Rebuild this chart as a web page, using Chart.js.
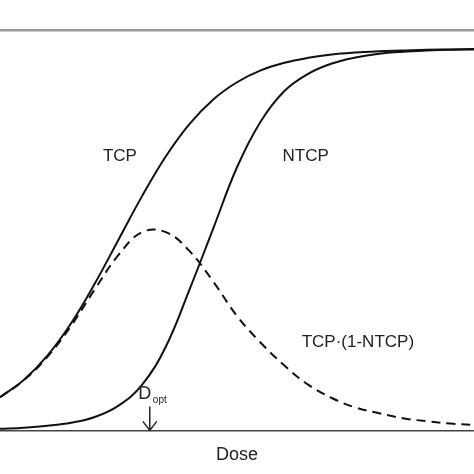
<!DOCTYPE html>
<html><head><script src="https://cdn.jsdelivr.net/npm/chart.js"></script>
<style>html,body{margin:0;background:#fff}#w{width:474px;height:474px}</style></head>
<body><div id="w"><canvas id="c"></canvas></div>
<script>
const dose=[0,5,10,15,20,25,30,35,40,45,50,55,60,65,70,75,80,85,90,95,100];
const tcp=[0.087,0.132,0.196,0.281,0.385,0.5,0.615,0.719,0.804,0.868,0.913,0.944,0.964,0.977,0.986,0.991,0.994,0.996,0.998,0.999,1.0];
const ntcp=[0.004,0.007,0.012,0.02,0.035,0.065,0.12,0.22,0.37,0.53,0.69,0.81,0.89,0.935,0.962,0.978,0.988,0.993,0.996,0.998,0.999];
const prod=[0.087,0.131,0.193,0.274,0.37,0.46,0.52,0.52,0.47,0.39,0.30,0.23,0.17,0.12,0.085,0.06,0.045,0.032,0.024,0.018,0.014];
const labels=[{t:'TCP',x:25.3,y:0.72},{t:'NTCP',x:64.5,y:0.72},{t:'TCP·(1-NTCP)',x:75.5,y:0.23}];
const dopt=31.6;
const pts=a=>a.map((v,i)=>({x:dose[i],y:v}));
const ds=(a,dash)=>({data:pts(a),borderColor:'#111',borderWidth:2,borderDash:dash,pointRadius:0,tension:0.4,fill:false});
const deco={id:'deco',afterDatasetsDraw(ch){const c=ch.ctx,x=ch.scales.x,y=ch.scales.y;
c.save();c.fillStyle='#222';c.font='17px Arial, Liberation Sans';c.textAlign='center';c.textBaseline='middle';
labels.forEach(l=>c.fillText(l.t,x.getPixelForValue(l.x),y.getPixelForValue(l.y)));
const px=x.getPixelForValue(dopt),b=y.getPixelForValue(0);
c.font='18px Arial, Liberation Sans';c.fillText('D',px-5,b-36);c.font='10px Arial, Liberation Sans';c.fillText('opt',px+10,b-30);
c.strokeStyle='#222';c.lineWidth=1.5;c.beginPath();c.moveTo(px,b-24);c.lineTo(px,b);c.moveTo(px-7,b-9);c.lineTo(px,b);c.lineTo(px+7,b-9);c.stroke();
c.restore();}};
new Chart(document.getElementById('c'),{type:'line',data:{datasets:[ds(tcp,[]),ds(ntcp,[]),ds(prod,[9,6])]},
options:{responsive:true,maintainAspectRatio:false,animation:false,layout:{padding:{top:22,left:0,right:0,bottom:0}},
plugins:{legend:{display:false},tooltip:{enabled:false}},
scales:{x:{type:'linear',min:0,max:100,border:{color:'#444',width:1.5},grid:{display:false},ticks:{display:false},
title:{display:true,text:'Dose',color:'#222',font:{size:18,family:'Arial, Liberation Sans'},padding:{top:6,bottom:8}}},
xt:{type:'linear',position:'top',min:0,max:100,border:{color:'#999',width:2.5},grid:{display:false},ticks:{display:false}},
y:{min:0,max:1.05,display:false}}},plugins:[deco]});
</script></body></html>
